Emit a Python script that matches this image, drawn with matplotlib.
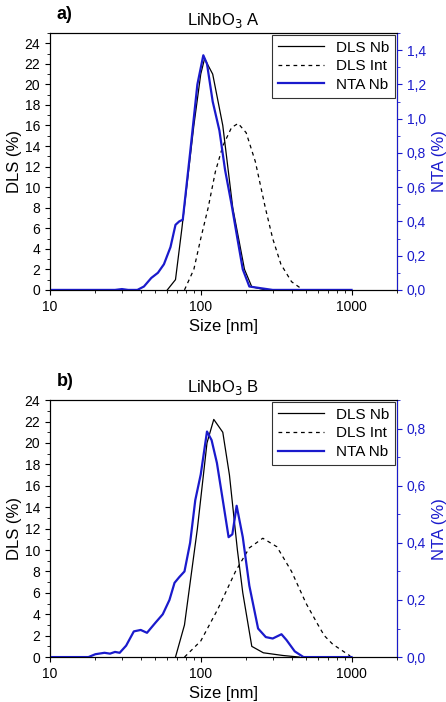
import numpy as np
import matplotlib.pyplot as plt
from matplotlib.ticker import MultipleLocator, FuncFormatter

plt.rcParams["font.family"] = ["Liberation Sans", "DejaVu Sans"]

# Panel a
a_nb_x = [60, 68, 75, 90, 100, 106, 120, 140, 163, 195, 218, 270]
a_nb_y = [0, 1, 6, 16, 21, 22.5, 21, 16, 8, 2, 0.3, 0]
a_int_x = [78, 90, 100, 112, 125, 140, 160, 177, 200, 230, 268, 300, 340, 400, 477]
a_int_y = [0, 2, 5, 8, 11.5, 14, 15.8, 16.2, 15.3, 12.5, 8, 5, 2.5, 0.8, 0]
a_nta_x = [10, 27, 30, 33, 38, 42, 47, 52, 57, 63, 68, 72, 76, 85, 95, 104, 110, 120,
           133, 145, 160, 175, 190, 210, 250, 300, 1000]
a_nta_y = [0, 0, 0.005, 0, 0, 0.02, 0.07, 0.1, 0.15, 0.25, 0.38, 0.4, 0.41, 0.8, 1.2,
           1.37, 1.32, 1.1, 0.93, 0.7, 0.5, 0.3, 0.12, 0.02, 0.01, 0, 0]

# Panel b
b_nb_x = [68, 78, 95, 110, 122, 140, 155, 175, 190, 218, 260, 350, 450]
b_nb_y = [0, 3, 12, 20, 22.2, 21, 17, 10, 6, 1, 0.4, 0.15, 0]
b_int_x = [78, 100, 130, 170, 210, 258, 320, 400, 500, 600, 660, 750, 980]
b_int_y = [0, 1.5, 4.5, 8, 10.2, 11.1, 10.3, 8, 5, 3, 2, 1.2, 0.1]
b_nta_x = [10, 18, 20, 23, 25, 27, 29, 32, 36, 40, 44, 50, 56, 62, 67, 72, 78, 85, 92,
           100, 110, 118, 128, 140, 153, 162, 173, 190, 210, 240, 270, 300, 343, 370,
           420, 480, 1000]
b_nta_y = [0, 0, 0.01, 0.015, 0.012, 0.018, 0.015, 0.04, 0.09, 0.095, 0.085, 0.12,
           0.15, 0.2, 0.26, 0.28, 0.3, 0.4, 0.55, 0.64, 0.79, 0.76, 0.68, 0.55, 0.42,
           0.43, 0.53, 0.42, 0.25, 0.1, 0.07, 0.065, 0.08, 0.06, 0.02, 0, 0]

panels = [
    ("a)", "LiNbO$_3$ A", a_nb_x, a_nb_y, a_int_x, a_int_y, a_nta_x, a_nta_y, 25, 1.5, 0.587),
    ("b)", "LiNbO$_3$ B", b_nb_x, b_nb_y, b_int_x, b_int_y, b_nta_x, b_nta_y, 24, 0.9, 0.064),
]

blue = "#1a1acc"
comma = FuncFormatter(lambda v, p: f"{v:.1f}".replace(".", ","))

fig = plt.figure(figsize=(4.46, 7.02), dpi=100)
for lab, title, nx, ny, ix, iy, tx, ty, ymax, rmax, bot in panels:
    ax = fig.add_axes([0.112, bot, 0.778, 0.366])
    l1, = ax.plot(nx, ny, color="black", lw=0.9, label="DLS Nb")
    l2, = ax.plot(ix, iy, color="black", lw=0.9, ls=(0, (3, 3)), label="DLS Int")
    ax.set_xscale("log")
    ax.set_xlim(10, 2000)
    ax.set_ylim(0, ymax)
    ax.yaxis.set_major_locator(MultipleLocator(2))
    ax.yaxis.set_minor_locator(MultipleLocator(1))
    ax.set_xticks([10, 100, 1000])
    ax.set_xticklabels(["10", "100", "1000"])
    ax.tick_params(labelsize=10)
    ax.set_xlabel("Size [nm]", fontsize=12)
    ax.set_ylabel("DLS (%)", fontsize=12, labelpad=2)
    ax.set_title(title, fontsize=12, pad=6)
    ax.text(0.02, 1.04, lab, transform=ax.transAxes, fontsize=13, fontweight="bold",
            ha="left", va="bottom")

    ax2 = ax.twinx()
    l3, = ax2.plot(tx, ty, color=blue, lw=1.6, label="NTA Nb")
    ax2.set_ylim(0, rmax)
    ax2.yaxis.set_major_locator(MultipleLocator(0.2))
    ax2.yaxis.set_minor_locator(MultipleLocator(0.1))
    ax2.yaxis.set_major_formatter(comma)
    ax2.tick_params(axis="y", which="both", colors=blue, labelsize=10)
    ax2.spines["right"].set_color(blue)
    ax2.set_ylabel("NTA (%)", color=blue, fontsize=12)

    leg = ax2.legend(handles=[l1, l2, l3], loc="upper right", fontsize=11,
                     fancybox=False, edgecolor="black", borderaxespad=0.1,
                     handlelength=3, labelspacing=0.3)
    leg.get_frame().set_linewidth(0.8)

fig.savefig("out.png", dpi=100)
